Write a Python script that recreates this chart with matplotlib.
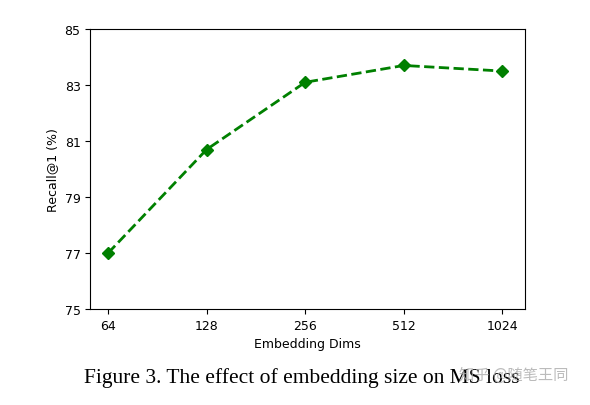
import matplotlib
matplotlib.use("Agg")
import matplotlib.pyplot as plt

dims = ["64", "128", "256", "512", "1024"]
recall = [77.0, 80.7, 83.1, 83.7, 83.5]
yticks = [75, 77, 79, 81, 83, 85]

fig = plt.figure(figsize=(5.9, 4.06), dpi=100)
ax = fig.add_axes([0.153, 0.236, 0.737, 0.69])

x = list(range(len(dims)))
ax.plot(x, recall, color="green", linestyle="--", linewidth=2,
        marker="D", markersize=6)
ax.set_xticks(x)
ax.set_xticklabels(dims)
ax.set_xlim(-0.18, 4.23)
ax.set_ylim(75, 85)
ax.set_yticks(yticks)
ax.set_xlabel("Embedding Dims", fontsize=9)
ax.set_ylabel("Recall@1 (%)", fontsize=9)
ax.tick_params(labelsize=9)

# caption, with the site watermark lying over its end as in the scan
fig.text(0.512, 0.07, "Figure 3. The effect of embedding size on MS loss",
         ha="center", va="center", fontsize=15.5, family="Liberation Serif")
fig.text(0.87, 0.075, "知乎 @随笔王同", ha="center", va="center",
         fontsize=11, color="#aaaaaa", alpha=0.8,
         family=["Noto Sans CJK SC", "DejaVu Sans"])

fig.savefig("out.png")
